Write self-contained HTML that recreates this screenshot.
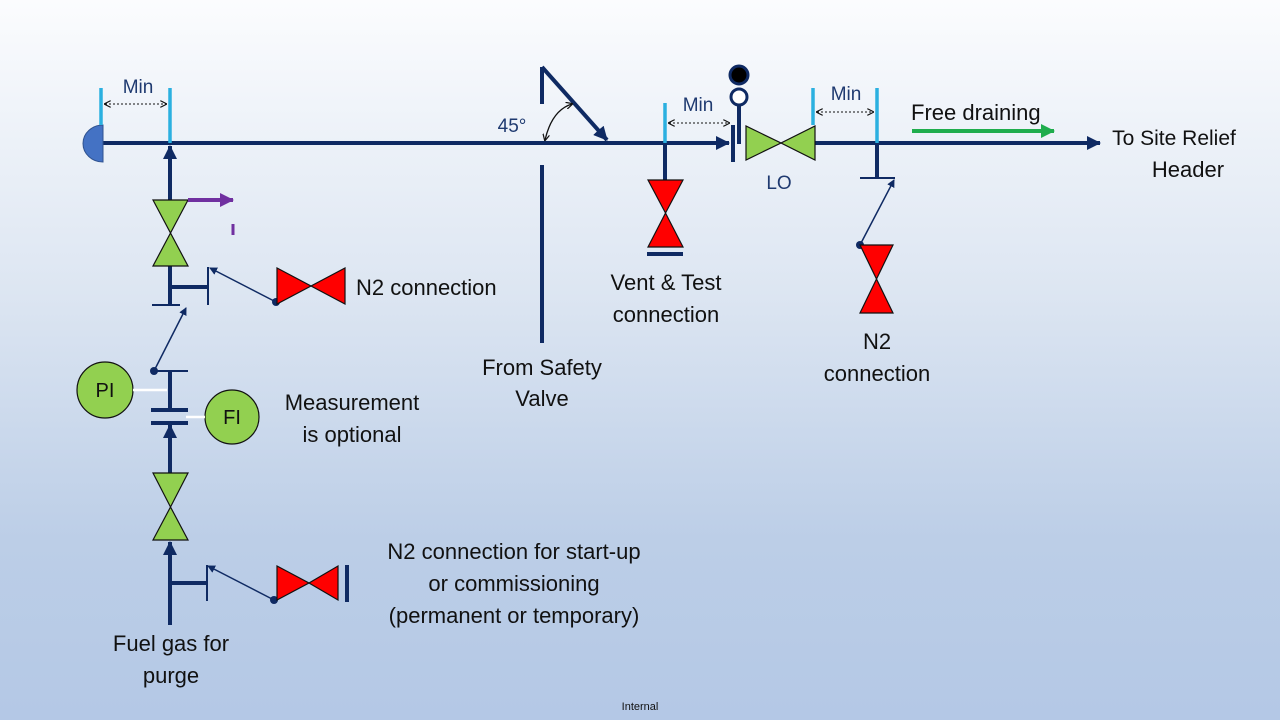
<!DOCTYPE html>
<html><head><meta charset="utf-8"><style>
html,body{margin:0;padding:0}
body{width:1280px;height:720px;overflow:hidden;background:linear-gradient(#fbfcfe 0%,#dde6f2 40%,#bccee7 75%,#b4c8e6 100%);}
svg{position:absolute;left:0;top:0}
text{font-family:"Liberation Sans",sans-serif;fill:#111;}
</style></head><body>
<svg width="1280" height="720" viewBox="0 0 1280 720">
<defs>
<marker id="a" markerWidth="8" markerHeight="8" refX="7" refY="4" orient="auto" markerUnits="userSpaceOnUse"><path d="M0,0 L8,4 L0,8z" fill="#0f2a63"/></marker>
<marker id="ab" markerWidth="14" markerHeight="14" refX="13" refY="7" orient="auto" markerUnits="userSpaceOnUse"><path d="M0,0 L14,7 L0,14z" fill="#0f2a63"/></marker>
<marker id="ad" markerWidth="7" markerHeight="7" refX="6" refY="3.5" orient="auto-start-reverse" markerUnits="userSpaceOnUse"><path d="M0,0 L7,3.5 L0,7" fill="none" stroke="#111" stroke-width="1.2"/></marker>
<marker id="ag" markerWidth="14" markerHeight="14" refX="13" refY="7" orient="auto" markerUnits="userSpaceOnUse"><path d="M0,0 L14,7 L0,14z" fill="#1fad4d"/></marker>
<marker id="ap" markerWidth="14" markerHeight="14" refX="13" refY="7" orient="auto" markerUnits="userSpaceOnUse"><path d="M0,0 L14,7 L0,14z" fill="#7030a0"/></marker>
</defs>
<g stroke="#0f2a63" fill="none">
<line x1="103" y1="143" x2="729" y2="143" stroke-width="4" marker-end="url(#ab)"/>
<line x1="815" y1="143" x2="1100" y2="143" stroke-width="4" marker-end="url(#ab)"/>
<path d="M103,125 A20,18.5 0 0 0 103,162 Z" fill="#4472c4" stroke="#2f528f" stroke-width="1"/>
<line x1="170" y1="200" x2="170" y2="146" stroke-width="4" marker-end="url(#ab)"/>
<line x1="170" y1="266" x2="170" y2="305" stroke-width="4"/>
<line x1="170" y1="287" x2="208" y2="287" stroke-width="4"/>
<line x1="208" y1="267" x2="208" y2="305" stroke-width="2"/>
<line x1="276" y1="302" x2="210" y2="268" stroke-width="1.5" marker-end="url(#a)"/>
<circle cx="276" cy="302" r="4" fill="#0f2a63" stroke="none"/>
<line x1="152" y1="305" x2="180" y2="305" stroke-width="2"/>
<line x1="154" y1="371" x2="186" y2="308" stroke-width="1.5" marker-end="url(#a)"/>
<circle cx="154" cy="371" r="4" fill="#0f2a63" stroke="none"/>
<line x1="154" y1="371" x2="188" y2="371" stroke-width="2"/>
<line x1="170" y1="371" x2="170" y2="410" stroke-width="4"/>
<line x1="151" y1="410" x2="188" y2="410" stroke-width="4"/>
<line x1="151" y1="423" x2="188" y2="423" stroke-width="4"/>
<line x1="170" y1="473" x2="170" y2="425" stroke-width="4" marker-end="url(#ab)"/>
<line x1="170" y1="625" x2="170" y2="542" stroke-width="4" marker-end="url(#ab)"/>
<line x1="170" y1="583" x2="207" y2="583" stroke-width="4"/>
<line x1="207" y1="565" x2="207" y2="601" stroke-width="2"/>
<line x1="274" y1="600" x2="208" y2="566" stroke-width="1.5" marker-end="url(#a)"/>
<circle cx="274" cy="600" r="4" fill="#0f2a63" stroke="none"/>
<line x1="347" y1="565" x2="347" y2="602" stroke-width="4"/>
<line x1="542" y1="165" x2="542" y2="343" stroke-width="4"/>
<line x1="542" y1="104" x2="542" y2="67" stroke-width="4"/>
<line x1="542" y1="67" x2="607" y2="140" stroke-width="4" marker-end="url(#ab)"/>
<path d="M545,140 Q552,110 572,104" stroke="#111" stroke-width="1.3" marker-start="url(#ad)" marker-end="url(#ad)"/>
<line x1="665" y1="143" x2="665" y2="180" stroke-width="4"/>
<line x1="647" y1="254" x2="683" y2="254" stroke-width="4"/>
<line x1="733" y1="125" x2="733" y2="162" stroke-width="4"/>
<line x1="739" y1="106" x2="739" y2="144" stroke-width="4"/>
<circle cx="739" cy="97" r="8" fill="#fff" stroke-width="3"/>
<circle cx="739" cy="75" r="9" fill="#000" stroke-width="3"/>
<line x1="877" y1="143" x2="877" y2="178" stroke-width="4"/>
<line x1="860" y1="178" x2="895" y2="178" stroke-width="2"/>
<line x1="860" y1="245" x2="894" y2="180" stroke-width="1.5" marker-end="url(#a)"/>
<circle cx="860" cy="245" r="4" fill="#0f2a63" stroke="none"/>
</g>
<g stroke="#2bb0e0" stroke-width="3.5">
<line x1="101" y1="88" x2="101" y2="125"/><line x1="170" y1="88" x2="170" y2="143"/>
<line x1="665" y1="103" x2="665" y2="143"/>
<line x1="813" y1="88" x2="813" y2="125"/><line x1="877" y1="88" x2="877" y2="143"/>
</g>
<g stroke="#111" stroke-width="1" stroke-dasharray="2,2">
<line x1="105" y1="104" x2="166" y2="104" marker-start="url(#ad)" marker-end="url(#ad)"/>
<line x1="669" y1="123" x2="729" y2="123" marker-start="url(#ad)" marker-end="url(#ad)"/>
<line x1="817" y1="112" x2="873" y2="112" marker-start="url(#ad)" marker-end="url(#ad)"/>
</g>
<g fill="#92d050" stroke="#111" stroke-width="1.2">
<path d="M153,200 L188,200 L170.5,233 Z M153,266 L188,266 L170.5,233 Z"/>
<path d="M153,473 L188,473 L170.5,507 Z M153,540 L188,540 L170.5,507 Z"/>
<path d="M746,126 L746,160 L781,143 Z M815,126 L815,160 L781,143 Z"/>
<circle cx="105" cy="390" r="28"/>
<circle cx="232" cy="417" r="27"/>
</g>
<line x1="133" y1="390" x2="167" y2="390" stroke="#fff" stroke-width="2.5"/>
<line x1="186" y1="417" x2="205" y2="417" stroke="#fff" stroke-width="2.5"/>
<g fill="#ff0000" stroke="#111" stroke-width="1.2">
<path d="M277,268 L277,304 L311,286 Z M345,268 L345,304 L311,286 Z"/>
<path d="M277,566 L277,600 L309,583 Z M338,566 L338,600 L309,583 Z"/>
<path d="M648,180 L683,180 L665.5,213 Z M648,247 L683,247 L665.5,213 Z"/>
<path d="M860,245 L893,245 L876.5,279 Z M860,313 L893,313 L876.5,279 Z"/>
</g>
<line x1="188" y1="200" x2="233" y2="200" stroke="#7030a0" stroke-width="4" marker-end="url(#ap)"/>
<line x1="233" y1="224" x2="233" y2="235" stroke="#7030a0" stroke-width="3"/>
<line x1="912" y1="131" x2="1054" y2="131" stroke="#1fad4d" stroke-width="4" marker-end="url(#ag)"/>
<g font-size="19"><text x="138" y="93" text-anchor="middle" style="fill:#1f3a70">Min</text>
<text x="698" y="111" text-anchor="middle" style="fill:#1f3a70">Min</text>
<text x="846" y="100" text-anchor="middle" style="fill:#1f3a70">Min</text>
<text x="779" y="189" text-anchor="middle" style="fill:#1f3a70">LO</text>
<text x="512" y="132" text-anchor="middle" style="fill:#1f3a70">45°</text></g>
<g font-size="20" text-anchor="middle"><text x="105" y="397">PI</text><text x="232" y="424">FI</text></g>
<g font-size="22" text-anchor="middle">
<text x="356" y="295" text-anchor="start">N2 connection</text>
<text x="352" y="410">Measurement</text><text x="352" y="442">is optional</text>
<text x="514" y="559">N2 connection for start-up</text><text x="514" y="591">or commissioning</text><text x="514" y="623">(permanent or temporary)</text>
<text x="171" y="651">Fuel gas for</text><text x="171" y="683">purge</text>
<text x="542" y="375">From Safety</text><text x="542" y="406">Valve</text>
<text x="666" y="290">Vent &amp; Test</text><text x="666" y="322">connection</text>
<text x="877" y="349">N2</text><text x="877" y="381">connection</text>
<text x="911" y="120" text-anchor="start">Free draining</text>
<text x="1174" y="145" font-size="21">To Site Relief</text><text x="1188" y="177">Header</text>
</g>
<text x="640" y="710" font-size="11" text-anchor="middle">Internal</text>
</svg>
</body></html>
